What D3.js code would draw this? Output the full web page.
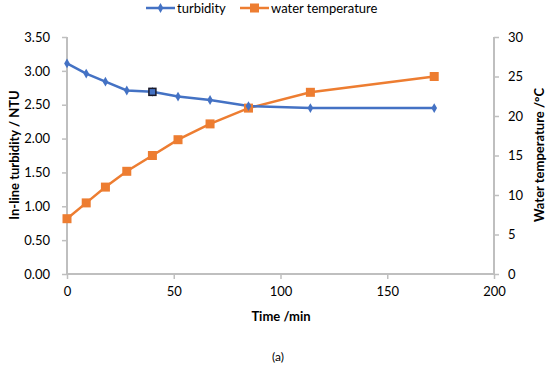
<!DOCTYPE html>
<html>
<head>
<meta charset="utf-8">
<script src="https://cdn.jsdelivr.net/npm/d3@7"></script>
<style>
  body { margin: 0; background: #fff; }
  text { font-family: Lato, "Open Sans", sans-serif; fill: #000; }
</style>
</head>
<body>
<svg width="550" height="367"></svg>
<script>
'use strict';

// time (min) of each sample
const times = [0, 9, 18, 28, 40, 52, 67, 85, 114, 172];
// in-line turbidity, NTU
const turbidity = [3.11, 2.96, 2.84, 2.71, 2.69, 2.62, 2.57, 2.48, 2.45, 2.45];
// water temperature, degC
const temperature = [7, 9, 11, 13, 15, 17, 19, 21, 23, 25];

const xTicks = [0, 50, 100, 150, 200];
const leftTicks = [0, 0.5, 1, 1.5, 2, 2.5, 3, 3.5];
const rightTicks = [0, 5, 10, 15, 20, 25, 30];

const blue = "#4472c4";
const orange = "#ed7d31";
const grey = "#bfbfbf";

const svg = d3.select("svg");

const x = d3.scaleLinear().domain([0, 200]).range([67, 494]);
const yL = d3.scaleLinear().domain([0, 3.5]).range([274, 37]);
const yR = d3.scaleLinear().domain([0, 30]).range([274, 37]);

// axes
const xAxis = svg.append("g")
  .attr("transform", "translate(0,274)")
  .call(d3.axisBottom(x).tickValues(xTicks).tickSize(5).tickPadding(8));
const leftAxis = svg.append("g")
  .attr("transform", "translate(67,0)")
  .call(d3.axisLeft(yL).tickValues(leftTicks).tickFormat(d3.format(".2f")).tickSize(5).tickPadding(12));
const rightAxis = svg.append("g")
  .attr("transform", "translate(494,0)")
  .call(d3.axisRight(yR).tickValues(rightTicks).tickSize(5).tickPadding(9));

[xAxis, leftAxis, rightAxis].forEach((g) => {
  g.select(".domain").attr("stroke", grey).attr("stroke-width", 2);
  g.selectAll(".tick line").attr("stroke", grey).attr("stroke-width", 1.5);
  g.selectAll(".tick text")
    .style("font-family", "Lato, 'Open Sans', sans-serif")
    .style("font-size", "13px")
    .attr("fill", "#000");
});
leftAxis.select(".domain").attr("d", "M0,274V37");
rightAxis.select(".domain").attr("d", "M0,274V37");
xAxis.select(".domain").attr("d", "M67,0H494");

// axis titles
svg.append("text")
  .attr("x", 281).attr("y", 321)
  .attr("text-anchor", "middle")
  .style("font-size", "13px").style("font-weight", "bold")
  .text("Time /min");

svg.append("text")
  .attr("transform", "translate(19,155) rotate(-90)")
  .attr("text-anchor", "middle")
  .style("font-size", "13px").style("font-weight", "bold")
  .text("In-line turbidity / NTU");

svg.append("text")
  .attr("transform", "translate(544,155) rotate(-90)")
  .attr("text-anchor", "middle")
  .style("font-size", "13px").style("font-weight", "bold")
  .text("Water temperature /°C");

svg.append("text")
  .attr("x", 278).attr("y", 361)
  .attr("text-anchor", "middle")
  .style("font-size", "12px")
  .text("(a)");

// lines
const turbLine = d3.line().x((d, i) => x(times[i])).y((d) => yL(d));
const tempLine = d3.line().x((d, i) => x(times[i])).y((d) => yR(d));

svg.append("path")
  .datum(temperature)
  .attr("fill", "none").attr("stroke", orange).attr("stroke-width", 2.5)
  .attr("d", tempLine);

svg.append("path")
  .datum(turbidity)
  .attr("fill", "none").attr("stroke", blue).attr("stroke-width", 2.5)
  .attr("d", turbLine);

// temperature markers (squares)
svg.append("g").selectAll("rect")
  .data(temperature)
  .join("rect")
  .attr("x", (d, i) => x(times[i]) - 4.5)
  .attr("y", (d) => yR(d) - 4.5)
  .attr("width", 9).attr("height", 9)
  .attr("fill", orange);

// turbidity markers (small diamonds)
const diamond = d3.symbol().type(d3.symbolDiamond).size(28);
svg.append("g").selectAll("path")
  .data(turbidity)
  .join("path")
  .attr("transform", (d, i) => `translate(${x(times[i])},${yL(d)})`)
  .attr("d", diamond)
  .attr("fill", blue);

// the selected point at 40 min is drawn with a dark square outline
svg.append("rect")
  .attr("x", x(times[4]) - 3.5).attr("y", yL(turbidity[4]) - 3.5)
  .attr("width", 7).attr("height", 7)
  .attr("fill", blue).attr("stroke", "#1a1a2a").attr("stroke-width", 1.5);

// legend
const legend = svg.append("g");
legend.append("line").attr("x1", 146).attr("x2", 175).attr("y1", 8).attr("y2", 8)
  .attr("stroke", blue).attr("stroke-width", 2.5);
legend.append("path").attr("transform", "translate(160.5,8)").attr("d", diamond).attr("fill", blue);
legend.append("text").attr("x", 177).attr("y", 12.5)
  .style("font-size", "13px").text("turbidity");

legend.append("line").attr("x1", 240).attr("x2", 269).attr("y1", 8).attr("y2", 8)
  .attr("stroke", orange).attr("stroke-width", 2.5);
legend.append("rect").attr("x", 250).attr("y", 3.5).attr("width", 9).attr("height", 9).attr("fill", orange);
legend.append("text").attr("x", 271).attr("y", 12.5)
  .style("font-size", "13px").text("water temperature");
</script>
</body>
</html>
